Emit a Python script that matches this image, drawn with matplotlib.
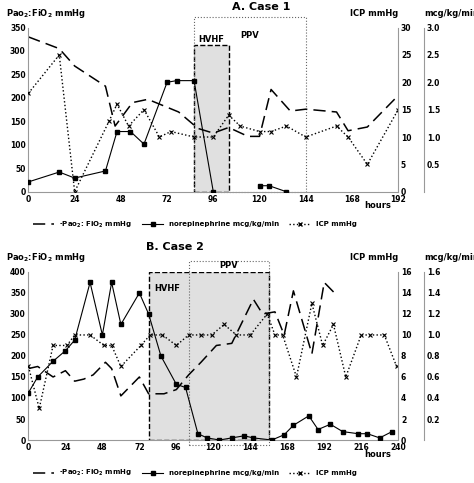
import numpy as np
import matplotlib.pyplot as plt
from matplotlib.patches import Rectangle
from matplotlib.lines import Line2D

nan = np.nan
# Case 1
c1_pf_x = [0, 16, 24, 40, 45, 54, 62, 78, 88, 96, 104, 114, 120, 126, 136, 144, 160, 166, 176, 192]
c1_pf = [330, 305, 268, 225, 140, 190, 197, 170, 135, 125, 137, 118, 118, 218, 172, 176, 170, 130, 138, 205]
c1_ne_x = [0, 16, 24, 40, 46, 53, 60, 72, 77, 86, 96, 110, 120, 125, 134]
c1_ne = [0.18, 0.36, 0.25, 0.38, 1.1, 1.1, 0.87, 2.0, 2.03, 2.03, 0, nan, 0.11, 0.11, 0]
c1_icp_x = [0, 16, 24, 42, 46, 52, 60, 68, 74, 86, 96, 104, 110, 120, 126, 134, 144, 160, 166, 176, 192]
c1_icp = [18, 25, 0, 13, 16, 12, 15, 10, 11, 10, 10, 14, 12, 11, 11, 12, 10, 12, 10, 5, 15]
# Case 2
c2_pf_x = [0, 6, 10, 16, 24, 30, 36, 42, 50, 54, 60, 72, 78, 88, 96, 104, 112, 122, 132, 146, 152, 160, 166, 172, 184, 192, 200]
c2_pf = [170, 175, 165, 150, 165, 140, 145, 155, 185, 170, 105, 150, 110, 110, 120, 155, 185, 225, 230, 335, 300, 305, 250, 355, 205, 375, 345]
c2_ne_x = [0, 6, 16, 24, 30, 40, 48, 54, 60, 72, 78, 86, 96, 102, 110, 116, 124, 132, 140, 146, 158, 166, 172, 182, 188, 196, 204, 214, 220, 228, 236]
c2_ne = [0.45, 0.6, 0.75, 0.85, 0.95, 1.5, 1.0, 1.5, 1.1, 1.4, 1.2, 0.8, 0.53, 0.5, 0.06, 0.02, 0, 0.02, 0.04, 0.02, 0,
         0.05, 0.14, 0.23, 0.1, 0.15, 0.08, 0.06, 0.06, 0.02, 0.08]
c2_icp_x = [0, 7, 16, 25, 30, 40, 49, 54, 60, 73, 79, 87, 96, 104, 112, 119, 127, 135, 144, 155, 160, 165, 174, 184, 191, 198, 206, 216, 222, 231, 239]
c2_icp = [7, 3, 9, 9, 10, 10, 9, 9, 7, 9, 10, 10, 9, 10, 10, 10, 11, 10, 10, 12, 10, 10, 6, 13, 9, 11, 6, 10, 10, 10, 7]

fig = plt.figure(figsize=(4.74, 4.83), dpi=100)
plt.rcParams['font.size'] = 5.5
plt.rcParams['font.weight'] = 'bold'


def panel(rect, pf_x, pf, ne_x, ne, icp_x, icp, xmax, pfmax, icpmax, nemax, hv, ppv, hv_top, ppv_lim):
    ax = fig.add_axes(rect)
    ax2 = ax.twinx()
    ax3 = ax.twinx()
    ax3.spines['right'].set_position(('axes', 1.07))
    for a in (ax, ax2, ax3):
        a.spines['top'].set_visible(False)
        a.tick_params(length=0, labelsize=5.5, pad=2)
    ax.spines['left'].set_color('#999999')
    ax.spines['bottom'].set_color('#999999')
    ax2.spines['right'].set_color('#999999')
    ax3.spines['right'].set_color('#999999')
    ax.spines['right'].set_visible(False)
    ax3.spines['left'].set_visible(False)
    ax2.spines['left'].set_visible(False)
    ax2.spines['bottom'].set_visible(False)
    ax3.spines['bottom'].set_visible(False)
    ax.add_patch(Rectangle((hv[0], 0), hv[1] - hv[0], hv_top, facecolor='#e0e0e0',
                           edgecolor='black', ls='--', lw=1.0, zorder=0))
    ax.add_patch(Rectangle((ppv[0], ppv_lim[0]), ppv[1] - ppv[0], ppv_lim[1] - ppv_lim[0], facecolor='none',
                           edgecolor='#666666', ls=':', lw=0.8, zorder=0, clip_on=False))
    ax.plot(pf_x, pf, color='black', lw=1.1, dashes=(8, 4))
    ax2.plot(icp_x, icp, color='black', lw=1.0, ls=':', marker='x', ms=3, mew=0.8)
    ax3.plot(ne_x, ne, color='black', lw=0.8, marker='s', ms=2.5)
    ax.set_xlim(0, xmax)
    ax.set_ylim(0, pfmax)
    ax2.set_ylim(0, icpmax)
    ax3.set_ylim(0, nemax)
    ax.set_xticks(np.arange(0, xmax + 1, 24))
    ax.set_yticks(np.arange(0, pfmax + 1, 50))
    ax2.set_yticks(np.arange(0, icpmax + 1, 5 if icpmax == 30 else 2))
    step = 0.5 if nemax == 3 else 0.2
    ax3.set_yticks(np.arange(step, nemax + 0.001, step))
    ax3.yaxis.set_major_formatter(plt.FormatStrFormatter('%.1f'))
    ax.text(-0.06, 1.07, 'Pao$_2$:FiO$_2$ mmHg', transform=ax.transAxes, ha='left', fontsize=6)
    ax.text(1.0, 1.07, 'ICP mmHg', transform=ax.transAxes, ha='right', fontsize=6)
    ax.text(1.22, 1.07, 'mcg/kg/min', transform=ax.transAxes, ha='right', fontsize=6)
    ax.text(0.98, -0.1, 'hours', transform=ax.transAxes, ha='right', fontsize=6)
    handles = [Line2D([], [], color='black', lw=1.1, dashes=(8, 4)),
               Line2D([], [], color='black', lw=0.8, marker='s', ms=2.5),
               Line2D([], [], color='black', lw=1.0, ls=':', marker='x', ms=3)]
    ax.legend(handles, ['-Pao$_2$: FiO$_2$ mmHg', 'norepinephrine mcg/kg/min', 'ICP mmHg'],
              loc='upper center', bbox_to_anchor=(0.45, -0.13), ncol=3, frameon=False,
              fontsize=5, handlelength=3, columnspacing=1.5)
    return ax


ax1 = panel([0.06, 0.603, 0.78, 0.34], c1_pf_x, c1_pf, c1_ne_x, c1_ne, c1_icp_x, c1_icp,
            192, 350, 30, 3.0, (86, 104), (86, 144), 312, (0, 372))
ax1.text(95, 314, 'HVHF', fontsize=6, ha='center', va='bottom')
ax1.text(115, 343, 'PPV', fontsize=6, ha='center', va='top')
fig.text(0.55, 0.995, 'A. Case 1', fontsize=8, ha='center', va='top')

ax2 = panel([0.06, 0.089, 0.78, 0.348], c2_pf_x, c2_pf, c2_ne_x, c2_ne, c2_icp_x, c2_icp,
            240, 400, 16, 1.6, (78, 156), (104, 156), 400, (-12, 425))
ax2.text(90, 350, 'HVHF', fontsize=6, ha='center', va='bottom')
ax2.text(130, 404, 'PPV', fontsize=6, ha='center', va='bottom')
fig.text(0.37, 0.5, 'B. Case 2', fontsize=8, ha='center', va='top')

fig.savefig('out.png', dpi=100)
